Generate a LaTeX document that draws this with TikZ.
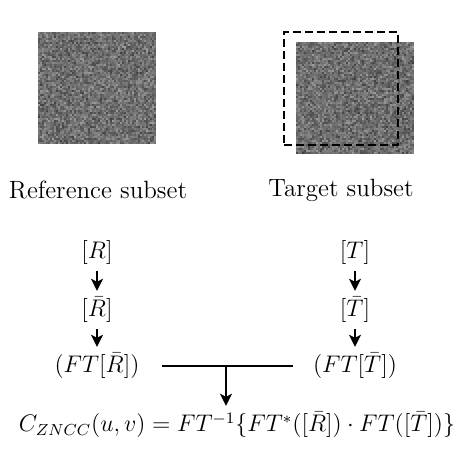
\documentclass[tikz,border=0pt]{standalone}
\usepackage{amsmath,amssymb}
\usetikzlibrary{arrows.meta,positioning,calc}

\begin{document}
\begin{tikzpicture}[x=0.5pt, y=-0.5pt,
    lbl/.style={font=\fontsize{12.5}{15}\selectfont, inner sep=0pt},
    eq/.style={font=\fontsize{12.3}{15}\selectfont, inner sep=3pt},
    arr/.style={-{Stealth[length=6pt, width=6pt, inset=1.5pt]}, line width=1pt},
    seg/.style={line width=1pt},
    win/.style={draw, line width=1.3pt, dash pattern=on 4pt off 2pt}
]
\useasboundingbox (0,0) rectangle (474,474);

% speckle images
\pgfmathsetseed{42}
\foreach \sx/\sy in {38/32, 296/42} {
  \fill[black!58] (\sx,\sy) rectangle ++(118,112);
  \foreach \i in {0,...,58} {
    \foreach \j in {0,...,55} {
      \pgfmathsetmacro{\g}{int(38+(rnd+rnd)*19)}
      \fill[black!\g] ({\sx+\i*2},{\sy+\j*2}) rectangle ++(2.05,2.05);
    }
  }
}
\node[win, minimum width=57pt, minimum height=56.5pt, inner sep=0pt] (win) at (341,88.5) {};

\node[lbl] (reflbl) at (98,190) {Reference subset};
\node[lbl] (tgtlbl) at (341,190) {Target subset};

\node[eq] (R) at (97,253) {$[R]$};
\node[eq] (Rb) at (97,310) {$[\bar{R}]$};
\node[eq] (FTR) at (97,366) {$(FT[\bar{R}])$};
\node[eq] (T) at (355,253) {$[T]$};
\node[eq] (Tb) at (355,310) {$[\bar{T}]$};
\node[eq] (FTT) at (355,366) {$(FT[\bar{T}])$};
\node[eq, font=\fontsize{12}{15}\selectfont] (zncc) at (237,425) {$C_{ZNCC}(u,v) = FT^{-1}\{FT^{*}([\bar{R}])\cdot FT([\bar{T}])\}$};

\draw[arr] (R) -- (Rb);
\draw[arr] (Rb) -- (FTR);
\draw[arr] (T) -- (Tb);
\draw[arr] (Tb) -- (FTT);
\draw[seg, shorten <=8pt, shorten >=7pt] (FTR.east) -- (FTT.west);
\coordinate (join) at (226,365);
\draw[arr] (join) -- (join |- zncc.north);
\end{tikzpicture}
\end{document}
